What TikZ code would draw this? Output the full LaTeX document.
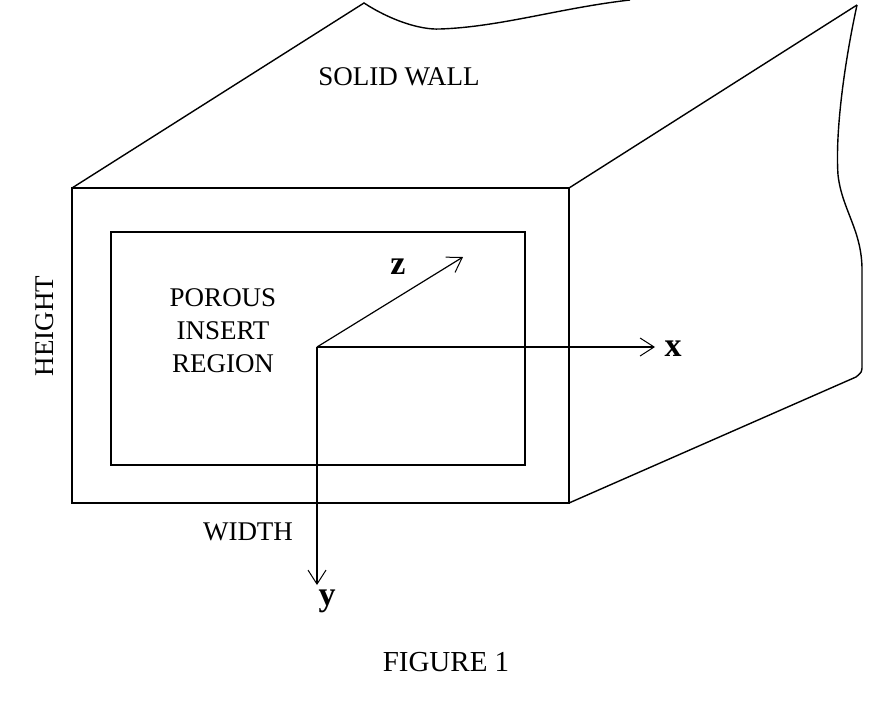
\documentclass[tikz,border=0pt]{standalone}
\usepackage{fontspec}
\setmainfont{Liberation Serif}
\usetikzlibrary{arrows.meta}
\begin{document}
\begin{tikzpicture}[x=1pt,y=-1pt,line width=1.4pt,
  ax/.style={-{Straight Barb[length=14pt,width=18pt,line width=1pt]},line width=1.2pt},
  lbl/.style={font=\fontsize{27}{30}\selectfont},
  axl/.style={font=\fontsize{34}{36}\selectfont\bfseries}]
\useasboundingbox (0,0) rectangle (893,715);
\coordinate (A) at (72,188); \coordinate (B) at (569,188);
\coordinate (C) at (569,503); \coordinate (D) at (72,503);
\coordinate (TR) at (857,5); \coordinate (BR) at (856,377);
\draw (A) rectangle (C);
\draw (111,232) rectangle (525,465);
\draw (A) -- (364,3) .. controls (390,20) and (420,30) .. (440,29) .. controls (500,27) and (560,8) .. (630,0);
\draw (B) -- (TR);
\draw (C) -- (BR);
\draw (TR) .. controls (845,60) and (835,130) .. (838,175) .. controls (842,210) and (862,230) .. (862,270) -- (862,365) .. controls (862,372) .. (BR);
\coordinate (O) at (317,347);
\coordinate (X) at (655,347); \coordinate (Y) at (317,585); \coordinate (Z) at (463,257);
\draw[ax] (O) -- (X);
\draw[ax] (O) -- (Y);
\draw[ax] (O) -- (Z);
\node[axl] (xl) at (673,349) {x};
\node[axl] (yl) at (327,601) {y};
\node[axl] (zl) at (398,267) {z};
\node[lbl] (sw) at (399,77) {SOLID WALL};
\node[lbl,align=center,font=\fontsize{27}{33}\selectfont] (pi) at (223,331) {POROUS\\INSERT\\REGION};
\node[lbl,rotate=90] (h) at (45,326) {HEIGHT};
\node[lbl] (w) at (248,532) {WIDTH};
\node[font=\fontsize{29}{32}\selectfont] (f) at (446,662) {FIGURE 1};
\end{tikzpicture}
\end{document}
